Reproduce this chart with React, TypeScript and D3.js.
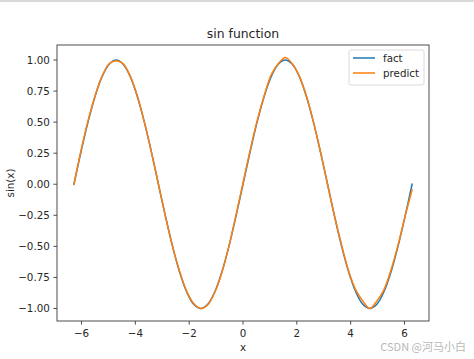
import React from "react";
import * as d3 from "d3";

const xValues = [
  -6.283, -6.021, -5.760, -5.498, -5.236, -4.974, -4.712, -4.451, -4.189, -3.927,
  -3.665, -3.403, -3.142, -2.880, -2.618, -2.356, -2.094, -1.833, -1.571, -1.309,
  -1.047, -0.785, -0.524, -0.262, 0.0, 0.262, 0.524, 0.785, 1.047, 1.309,
  1.571, 1.833, 2.094, 2.356, 2.618, 2.880, 3.142, 3.403, 3.665, 3.927,
  4.189, 4.451, 4.712, 4.974, 5.236, 5.498, 5.760, 6.021, 6.283,
];

const factValues = [
  0.0, 0.259, 0.5, 0.707, 0.866, 0.966, 1.0, 0.966, 0.866, 0.707,
  0.5, 0.259, 0.0, -0.259, -0.5, -0.707, -0.866, -0.966, -1.0, -0.966,
  -0.866, -0.707, -0.5, -0.259, 0.0, 0.259, 0.5, 0.707, 0.866, 0.966,
  1.0, 0.966, 0.866, 0.707, 0.5, 0.259, 0.0, -0.259, -0.5, -0.707,
  -0.866, -0.966, -1.0, -0.966, -0.866, -0.707, -0.5, -0.259, 0.0,
];

const predictValues = [
  0.0, 0.27, 0.51, 0.71, 0.87, 0.97, 0.995, 0.97, 0.87, 0.71,
  0.5, 0.26, 0.0, -0.26, -0.5, -0.7, -0.86, -0.96, -1.0, -0.97,
  -0.87, -0.71, -0.5, -0.25, 0.01, 0.27, 0.51, 0.71, 0.88, 0.97,
  1.02, 0.97, 0.87, 0.71, 0.5, 0.26, 0.0, -0.26, -0.49, -0.7,
  -0.85, -0.94, -1.0, -0.94, -0.85, -0.69, -0.49, -0.26, -0.045,
];

const xTicks = [-6, -4, -2, 0, 2, 4, 6];
const yTicks = [-1.0, -0.75, -0.5, -0.25, 0.0, 0.25, 0.5, 0.75, 1.0];

const seriesNames = ["fact", "predict"];
const seriesColors = ["#1f77b4", "#ff7f0e"];

const W = 474;
const H = 359;
const L = 57;
const R = 429;
const T = 45;
const B = 321;

function pad(ext: [number, number]): [number, number] {
  const m = (ext[1] - ext[0]) * 0.05;
  return [ext[0] - m, ext[1] + m];
}

export default function App() {
  const xExt = d3.extent(xValues) as [number, number];
  const yExt = d3.extent([...factValues, ...predictValues]) as [number, number];
  const x = d3.scaleLinear().domain(pad(xExt)).range([L, R]);
  const y = d3.scaleLinear().domain(pad(yExt)).range([B, T]);

  const factLine = d3
    .line<number>()
    .x((_, i) => x(xValues[i]))
    .y((d) => y(d))
    .curve(d3.curveCatmullRom.alpha(0.5));

  const predictLine = d3
    .line<number>()
    .x((_, i) => x(xValues[i]))
    .y((d) => y(d))
    .curve(d3.curveCatmullRom.alpha(0.5));

  const font = "'DejaVu Sans', sans-serif";
  const fs = 10.3;
  const textColor = "#262626";
  const spine = "#3a3a3a";

  return (
    <svg
      width={W}
      height={H}
      style={{ position: "absolute", left: 0, top: 0, background: "#fff" }}
      fontFamily={font}
    >
      <rect x={0} y={0} width={W} height={H} fill="#fff" />
      <rect x={0} y={0} width={W} height={2} fill="#d9d9d9" />

      <text x={(L + R) / 2} y={37.5} textAnchor="middle" fontSize={12.4} fill={textColor}>
        sin function
      </text>

      <path d={factLine(factValues) || ""} fill="none" stroke={seriesColors[0]} strokeWidth={1.5} strokeLinejoin="round" strokeLinecap="square" />
      <path d={predictLine(predictValues) || ""} fill="none" stroke={seriesColors[1]} strokeWidth={1.5} strokeLinejoin="round" strokeLinecap="square" />

      <rect x={L} y={T} width={R - L} height={B - T} fill="none" stroke={spine} strokeWidth={0.9} />

      {xTicks.map((t) => (
        <g key={"x" + t}>
          <line x1={x(t)} x2={x(t)} y1={B} y2={B + 3.6} stroke={spine} strokeWidth={0.9} />
          <text x={x(t)} y={B + 16} textAnchor="middle" fontSize={fs} fill={textColor}>
            {t < 0 ? "\u2212" + Math.abs(t) : String(t)}
          </text>
        </g>
      ))}

      {yTicks.map((t) => (
        <g key={"y" + t}>
          <line x1={L - 3.6} x2={L} y1={y(t)} y2={y(t)} stroke={spine} strokeWidth={0.9} />
          <text x={L - 7.2} y={y(t) + 3.7} textAnchor="end" fontSize={fs} fill={textColor}>
            {(t < 0 ? "\u2212" : "") + Math.abs(t).toFixed(2)}
          </text>
        </g>
      ))}

      <text x={(L + R) / 2} y={351} textAnchor="middle" fontSize={fs} fill={textColor}>
        x
      </text>
      <text
        transform={`translate(14, ${(T + B) / 2}) rotate(-90)`}
        textAnchor="middle"
        fontSize={fs}
        fill={textColor}
      >
        sin(x)
      </text>

      <g>
        <rect x={349} y={50} width={75} height={35} rx={2} fill="#fff" fillOpacity={0.8} stroke="#d0d0d0" strokeWidth={0.8} />
        {seriesNames.map((n, k) => (
          <g key={n}>
            <line x1={353} x2={375} y1={58 + k * 15} y2={58 + k * 15} stroke={seriesColors[k]} strokeWidth={1.5} />
            <text x={383} y={58 + k * 15 + 3.7} fontSize={fs} fill={textColor}>
              {n}
            </text>
          </g>
        ))}
      </g>

      <text
        x={466}
        y={351}
        textAnchor="end"
        fontSize={11}
        fill="#b8b8b8"
        fontFamily="'Noto Sans CJK SC', 'DejaVu Sans', sans-serif"
      >
        CSDN @河马小白
      </text>
    </svg>
  );
}
